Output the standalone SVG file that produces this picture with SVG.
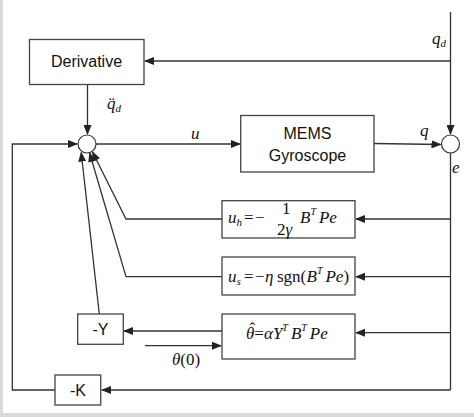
<svg xmlns="http://www.w3.org/2000/svg" width="474" height="417" viewBox="0 0 474 417">
<style>
.ln{fill:none;stroke:#333;stroke-width:1.3}
.bx{fill:#fff;stroke:#444;stroke-width:1.3}
.sum{fill:#fff;stroke:#333;stroke-width:1.2}
.t{font-family:"Liberation Sans",Arial,sans-serif;font-size:16px;fill:#111;text-anchor:middle}
.m{font-family:"Liberation Serif","Times New Roman",serif;font-size:17px;font-style:italic;fill:#111}
.r{font-style:normal}
.sb{font-size:11px}
.sp{font-size:10px}
</style>
<defs>
<marker id="ah" markerWidth="10" markerHeight="8" refX="9" refY="4" orient="auto" markerUnits="userSpaceOnUse">
<path d="M0,0 L10,4 L0,8 Z" fill="#222"/>
</marker>
</defs>
<rect x="0" y="0" width="474" height="417" fill="#dadada"/>
<rect x="3" y="0" width="471" height="413" fill="#fff"/>

<g id="connectors">
<path class="ln" d="M450.5,12 V134" marker-end="url(#ah)"/>
<path class="ln" d="M450.5,61 H145" marker-end="url(#ah)"/>
<path class="ln" d="M87.5,84 V134" marker-end="url(#ah)"/>
<path class="ln" d="M96,144 H240" marker-end="url(#ah)"/>
<path class="ln" d="M374,143.5 L440.5,144.5" marker-end="url(#ah)"/>
<path class="ln" d="M450.5,153 V390"/>
<path class="ln" d="M450.5,219 H356" marker-end="url(#ah)"/>
<path class="ln" d="M450.5,276.7 H356" marker-end="url(#ah)"/>
<path class="ln" d="M450.5,332.7 H356" marker-end="url(#ah)"/>
<path class="ln" d="M450.5,390 H102" marker-end="url(#ah)"/>
<path class="ln" d="M55,390 H12.3 V144 H77" marker-end="url(#ah)"/>
<path class="ln" d="M222,219 H126 L92.5,152" marker-end="url(#ah)"/>
<path class="ln" d="M222,276.7 H126 L89.6,153" marker-end="url(#ah)"/>
<path class="ln" d="M99.3,314 L81.2,152.5" marker-end="url(#ah)"/>
<path class="ln" d="M222,331 H124" marker-end="url(#ah)"/>
<path class="ln" d="M145,345.7 H221" marker-end="url(#ah)"/>
</g>

<g id="sum1"><circle class="sum" cx="87" cy="144" r="9"/></g>
<g id="sum2"><circle class="sum" cx="450.5" cy="144" r="9"/></g>

<g id="derivative">
<rect class="bx" x="29.5" y="39.5" width="114.5" height="45"/>
<text class="t" x="86.5" y="67">Derivative</text>
</g>

<g id="mems">
<rect class="bx" x="240.7" y="115.5" width="133.3" height="56.5"/>
<text class="t" x="307.5" y="139">MEMS</text>
<text class="t" x="307.5" y="161">Gyroscope</text>
</g>

<g id="uh">
<rect class="bx" x="222" y="200.7" width="133" height="37.3"/>
<text class="m" x="228" y="223">u<tspan class="sb" dy="3">h</tspan></text>
<text class="m r" x="244" y="223">=</text>
<text class="m r" x="255" y="223">−</text>
<text class="m r" x="282" y="214">1</text>
<text class="m" x="277" y="235"><tspan class="r">2</tspan>γ</text>
<text class="m" x="300" y="223">B<tspan class="sp" dy="-8">T</tspan><tspan dx="3" dy="8">Pe</tspan></text>
</g>

<g id="us">
<rect class="bx" x="222" y="257" width="133" height="38"/>
<text class="m" x="228" y="282">u<tspan class="sb" dy="3">s</tspan></text>
<text class="m r" x="244" y="282">=</text>
<text class="m r" x="255" y="282">−</text>
<text class="m" x="265" y="282">η</text>
<text class="m r" x="277" y="282">sgn(</text>
<text class="m" x="306.5" y="282">B<tspan class="sp" dy="-8">T</tspan><tspan dx="3" dy="8">Pe</tspan><tspan class="r">)</tspan></text>
</g>

<g id="theta">
<rect class="bx" x="222" y="314" width="133" height="45"/>
<text class="m r" x="249.5" y="334" font-size="15">ˆ</text>
<text class="m" x="246" y="339">θ<tspan class="r">=</tspan>αY<tspan class="sp" dy="-8">T</tspan><tspan dx="3" dy="8">B</tspan><tspan class="sp" dy="-8">T</tspan><tspan dx="3" dy="8">Pe</tspan></text>
</g>

<g id="negY">
<rect class="bx" x="77.7" y="314" width="45.6" height="30.3"/>
<text class="t" x="100.5" y="335">-Y</text>
</g>

<g id="negK">
<rect class="bx" x="55" y="375" width="45.7" height="30"/>
<text class="t" x="78" y="395.5">-K</text>
</g>

<g id="labels">
<text class="m" x="432" y="44">q<tspan class="sb" dy="3">d</tspan></text>
<text class="m" x="107" y="109">q̈<tspan class="sb" dy="3">d</tspan></text>
<text class="m" x="191" y="139">u</text>
<text class="m" x="420" y="136">q</text>
<text class="m" x="452" y="173">e</text>
<text class="m" x="172" y="365">θ<tspan class="r">(0)</tspan></text>
</g>
</svg>
